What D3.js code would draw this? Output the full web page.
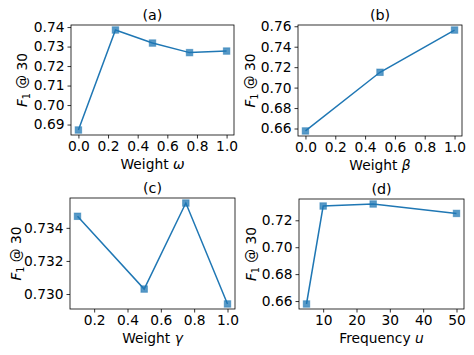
<!DOCTYPE html>
<html><head><meta charset="utf-8">
<script src="https://cdn.jsdelivr.net/npm/d3@7"></script>
<style>body{margin:0;background:#fff}svg{display:block}text{font-family:"DejaVu Sans",sans-serif}</style>
</head><body>
<svg id="c" width="474" height="355"></svg>
<script>
// Data
const omegaX = [0.0, 0.25, 0.5, 0.75, 1.0];
const omegaY = [0.6872, 0.7385, 0.7318, 0.7269, 0.7277];
const betaX = [0.0, 0.5, 1.0];
const betaY = [0.6576, 0.7150, 0.7563];
const gammaX = [0.1, 0.5, 0.75, 1.0];
const gammaY = [0.7347, 0.7303, 0.7355, 0.7294];
const freqX = [5, 10, 25, 50];
const freqY = [0.6578, 0.7306, 0.7321, 0.7251];

const titles = ["(a)", "(b)", "(c)", "(d)"];
const xLabels = [["Weight ", "ω"], ["Weight ", "β"], ["Weight ", "γ"], ["Frequency ", "u"]];
const xTicksA = [0, 0.2, 0.4, 0.6, 0.8, 1.0];
const yTicksA = [0.69, 0.70, 0.71, 0.72, 0.73, 0.74];
const xTicksB = [0, 0.2, 0.4, 0.6, 0.8, 1.0];
const yTicksB = [0.66, 0.68, 0.70, 0.72, 0.74, 0.76];
const xTicksC = [0.2, 0.4, 0.6, 0.8, 1.0];
const yTicksC = [0.730, 0.732, 0.734];
const xTicksD = [10, 20, 30, 40, 50];
const yTicksD = [0.66, 0.68, 0.70, 0.72];

const panels = [
  {x: omegaX, y: omegaY, xt: xTicksA, yt: yTicksA, xf: ".1f", yf: ".2f", box: [71, 25, 234, 135], ylo: 44},
  {x: betaX, y: betaY, xt: xTicksB, yt: yTicksB, xf: ".1f", yf: ".2f", box: [298, 25, 462, 136], ylo: 43},
  {x: gammaX, y: gammaY, xt: xTicksC, yt: yTicksC, xf: ".1f", yf: ".3f", box: [70, 198, 235, 309], ylo: 49},
  {x: freqX, y: freqY, xt: xTicksD, yt: yTicksD, xf: "d", yf: ".2f", box: [299, 199, 464, 309], ylo: 43}
];

const svg = d3.select("#c");
const FS = 13.8;
const blue = "#1f77b4";

panels.forEach((p, i) => {
  const [L, T, R, B] = p.box;
  const xe = d3.extent(p.x), ye = d3.extent(p.y);
  const xm = (xe[1] - xe[0]) * 0.05, ym = (ye[1] - ye[0]) * 0.05;
  const xs = d3.scaleLinear().domain([xe[0] - xm, xe[1] + xm]).range([L, R]);
  const ys = d3.scaleLinear().domain([ye[0] - ym, ye[1] + ym]).range([B, T]);
  const g = svg.append("g");

  const xa = g.append("g").attr("transform", `translate(0,${B})`)
    .call(d3.axisBottom(xs).tickValues(p.xt).tickFormat(d3.format(p.xf)).tickSize(3.5).tickPadding(3));
  const ya = g.append("g").attr("transform", `translate(${L},0)`)
    .call(d3.axisLeft(ys).tickValues(p.yt).tickFormat(d3.format(p.yf)).tickSize(3.5).tickPadding(3));
  [xa, ya].forEach(a => {
    a.select(".domain").remove();
    a.selectAll("line").attr("stroke", "#000").attr("stroke-width", 0.8);
    a.selectAll("text").attr("font-size", FS).attr("fill", "#000").attr("font-family", "DejaVu Sans");
  });

  g.append("rect").attr("x", L).attr("y", T).attr("width", R - L).attr("height", B - T)
    .attr("fill", "none").attr("stroke", "#000").attr("stroke-width", 0.8);

  const pts = p.x.map((v, k) => [v, p.y[k]]);
  g.append("path").datum(pts)
    .attr("d", d3.line().x(d => xs(d[0])).y(d => ys(d[1])))
    .attr("fill", "none").attr("stroke", blue).attr("stroke-width", 1.5);
  const ms = 6.5;
  g.selectAll("rect.m").data(pts).join("rect").attr("class", "m")
    .attr("x", d => xs(d[0]) - ms / 2).attr("y", d => ys(d[1]) - ms / 2)
    .attr("width", ms).attr("height", ms)
    .attr("fill", blue).attr("fill-opacity", 0.75)
    .attr("stroke", blue).attr("stroke-opacity", 0.5).attr("stroke-width", 1);

  g.append("text").attr("x", (L + R) / 2).attr("y", T - 5.5).attr("text-anchor", "middle")
    .attr("font-size", FS + 0.5).text(titles[i]);

  const xl = g.append("text").attr("x", (L + R) / 2).attr("y", B + 34).attr("text-anchor", "middle")
    .attr("font-size", FS);
  xl.append("tspan").text(xLabels[i][0]);
  xl.append("tspan").attr("font-style", "italic").text(xLabels[i][1]);

  const cx = L - p.ylo, cy = (T + B) / 2;
  const yl = g.append("text").attr("transform", `translate(${cx},${cy}) rotate(-90)`)
    .attr("text-anchor", "middle").attr("font-size", FS);
  yl.append("tspan").attr("font-style", "italic").text("F");
  yl.append("tspan").attr("font-size", FS * 0.7).attr("dy", 2.5).text("1");
  yl.append("tspan").attr("dy", -2.5).text(" @ 30");
});
</script>
</body></html>
